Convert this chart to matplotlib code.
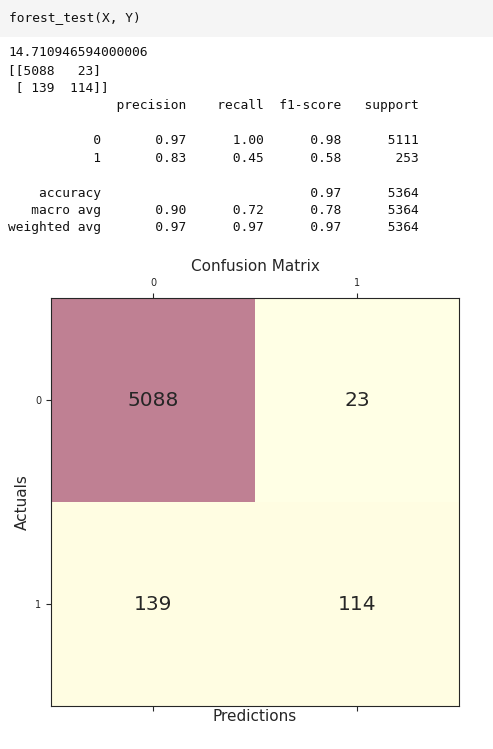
import numpy as np
import matplotlib
matplotlib.use('Agg')
import matplotlib.pyplot as plt
from matplotlib.patches import Rectangle

# notebook cell + printed output
code_line = 'forest_test(X, Y)'
run_time = 14.710946594000006
conf_matrix = np.array([[5088, 23],
                        [139, 114]])
class_names = ['0', '1']
precision = [0.97, 0.83]
recall = [1.00, 0.45]
f1_score = [0.98, 0.58]
support = [5111, 253]
accuracy = 0.97
macro_avg = [0.90, 0.72, 0.78]
weighted_avg = [0.97, 0.97, 0.97]
total_support = 5364

W, H = 493, 749
fig = plt.figure(figsize=(W / 100, H / 100), dpi=100)
fig.patch.set_facecolor('white')


def fy(py):
    return 1 - py / H


# grey input cell
fig.patches.append(Rectangle((0, fy(37)), 1, 37 / H, transform=fig.transFigure,
                             facecolor='#f5f5f5', edgecolor='none', zorder=0))

mono = dict(family='DejaVu Sans Mono', fontsize=9.3, color='#111111', va='center', ha='left')
fig.text(9 / W, fy(18), code_line, **mono)

# build the printed report like sklearn does
width = 12
head_fmt = '{:>{width}s} ' + ' {:>9}' * 4
row_fmt = '{:>{width}s} ' + ' {:>9.2f}' * 3 + ' {:>9}'
lines = [repr(run_time)]
lines += str(conf_matrix).split('\n')
lines.append(head_fmt.format('', 'precision', 'recall', 'f1-score', 'support', width=width))
lines.append('')
for i, name in enumerate(class_names):
    lines.append(row_fmt.format(name, precision[i], recall[i], f1_score[i], support[i], width=width))
lines.append('')
lines.append(('{:>{width}s} ' + ' {:>9}' * 2 + ' {:>9.2f}' + ' {:>9}').format(
    'accuracy', '', '', accuracy, total_support, width=width))
lines.append(row_fmt.format('macro avg', *macro_avg, total_support, width=width))
lines.append(row_fmt.format('weighted avg', *weighted_avg, total_support, width=width))

y0, step = 53, 17.5
for k, line in enumerate(lines):
    fig.text(8 / W, fy(y0 + k * step), line, **mono)

# confusion matrix plot
dark = '#262626'
left, right, top, bottom = 51, 459, 298, 706
ax = fig.add_axes([left / W, 1 - bottom / H, (right - left) / W, (bottom - top) / H])
ax.matshow(conf_matrix, cmap=plt.cm.YlOrRd, alpha=0.5)
for i in range(conf_matrix.shape[0]):
    for j in range(conf_matrix.shape[1]):
        ax.text(j, i, str(conf_matrix[i, j]), va='center', ha='center', fontsize=14.5, color=dark)

ax.set_xticks(range(len(class_names)))
ax.set_yticks(range(len(class_names)))
ax.set_xticklabels(class_names)
ax.set_yticklabels(class_names)
ax.tick_params(labelsize=7, colors=dark)
for s in ax.spines.values():
    s.set_color(dark)
ax.set_title('Confusion Matrix', fontsize=11, color=dark, y=1.0, pad=19.3)
ax.set_xlabel('Predictions', fontsize=11, color=dark, labelpad=-1.5)
ax.set_ylabel('Actuals', fontsize=11, color=dark)
ax.yaxis.set_label_coords((30 - left) / (right - left), 0.5)

fig.savefig('out.png', dpi=100)
